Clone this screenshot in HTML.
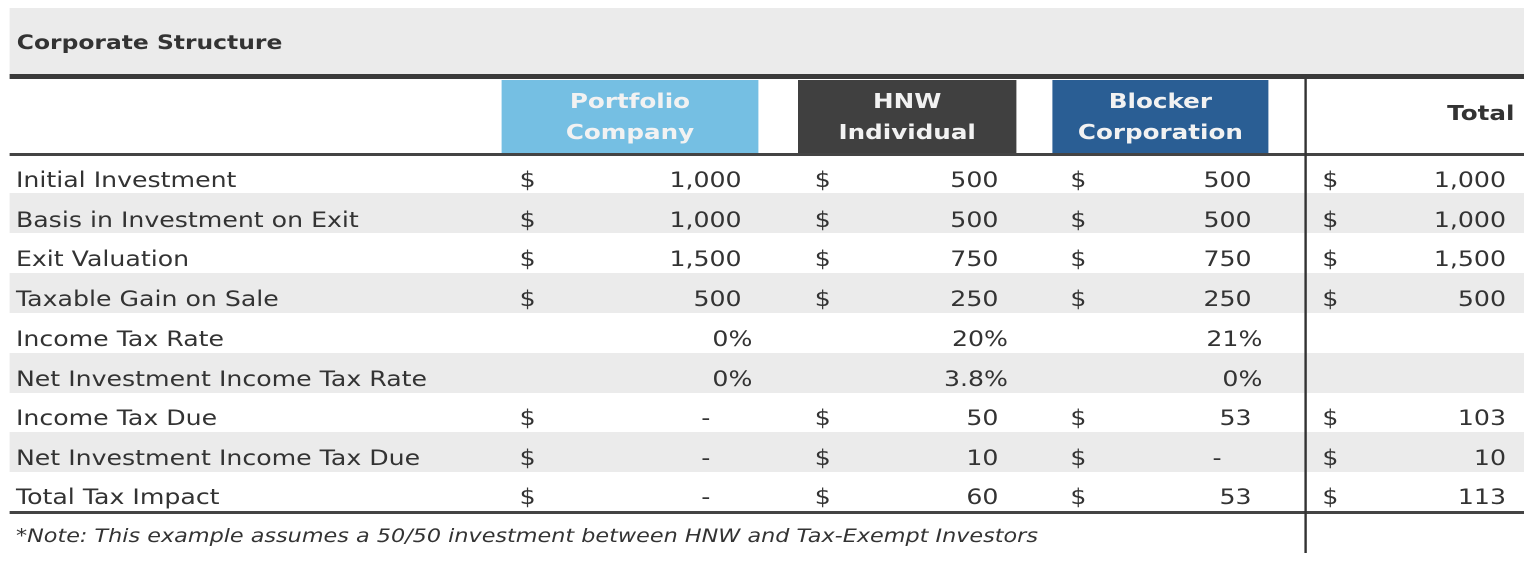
<!DOCTYPE html>
<html><head><meta charset="utf-8"><style>
html,body{margin:0;padding:0;background:#fff;width:1536px;height:561px;overflow:hidden}
#w{position:absolute;left:0;top:0;width:1280px;height:561px;transform:scaleX(1.2);transform-origin:0 0;font-family:"DejaVu Sans","Liberation Sans",sans-serif;color:#333;font-size:21px}
.a{position:absolute}
.t{position:absolute;line-height:40px;height:40px;white-space:nowrap}
.r{text-align:right}
.hb{position:absolute;top:80px;height:73px;color:#f2f2f2;font-weight:bold;text-align:center;line-height:31px;padding-top:6px;box-sizing:border-box;font-size:20.5px}
</style></head><body><div id="w">
<div class="a" style="left:8.3px;top:8px;width:1261.7px;height:67px;background:#ebebeb"></div>
<div class="a" style="left:14px;top:31px;font-weight:bold;font-size:19.5px;color:#333">Corporate Structure</div>
<div class="a" style="left:8.3px;top:74px;width:1261.7px;height:5px;background:#3a3a3a"></div>
<div class="hb" style="left:418px;width:214px;background:#75bfe3">Portfolio<br>Company</div>
<div class="hb" style="left:665px;width:182px;background:#404040">HNW<br>Individual</div>
<div class="hb" style="left:877px;width:180px;background:#2a5e94">Blocker<br>Corporation</div>
<div class="a" style="left:1150px;top:101px;width:112px;text-align:right;font-weight:bold;font-size:20.5px">Total</div>
<div class="a" style="left:8.3px;top:193px;width:1261.7px;height:40px;background:#ebebeb"></div>
<div class="a" style="left:8.3px;top:273px;width:1261.7px;height:40px;background:#ebebeb"></div>
<div class="a" style="left:8.3px;top:353px;width:1261.7px;height:40px;background:#ebebeb"></div>
<div class="a" style="left:8.3px;top:432px;width:1261.7px;height:40px;background:#ebebeb"></div>
<div class="a" style="left:8.3px;top:153px;width:1261.7px;height:3px;background:#444"></div>
<div class="a" style="left:8.3px;top:511px;width:1261.7px;height:3px;background:#444"></div>
<div class="a" style="left:1086.5px;top:79px;width:2.5px;height:474px;background:#333"></div>
<div class="a" style="left:13.3px;top:526px;font-style:italic;font-size:18.6px">*Note: This example assumes a 50/50 investment between HNW and Tax-Exempt Investors</div>
<div class="t" style="left:13.3px;top:160px">Initial Investment</div>
<div class="t" style="left:13.3px;top:200px">Basis in Investment on Exit</div>
<div class="t" style="left:13.3px;top:239px">Exit Valuation</div>
<div class="t" style="left:13.3px;top:279px">Taxable Gain on Sale</div>
<div class="t" style="left:13.3px;top:319px">Income Tax Rate</div>
<div class="t" style="left:13.3px;top:359px">Net Investment Income Tax Rate</div>
<div class="t" style="left:13.3px;top:398px">Income Tax Due</div>
<div class="t" style="left:13.3px;top:438px">Net Investment Income Tax Due</div>
<div class="t" style="left:13.3px;top:477px">Total Tax Impact</div>

<div class="t" style="left:433px;top:160px">$</div><div class="t r" style="left:518px;width:100px;top:160px">1,000</div>
<div class="t" style="left:679px;top:160px">$</div><div class="t r" style="left:732px;width:100px;top:160px">500</div>
<div class="t" style="left:892px;top:160px">$</div><div class="t r" style="left:943px;width:100px;top:160px">500</div>
<div class="t" style="left:1102px;top:160px">$</div><div class="t r" style="left:1155px;width:100px;top:160px">1,000</div>

<div class="t" style="left:433px;top:200px">$</div><div class="t r" style="left:518px;width:100px;top:200px">1,000</div>
<div class="t" style="left:679px;top:200px">$</div><div class="t r" style="left:732px;width:100px;top:200px">500</div>
<div class="t" style="left:892px;top:200px">$</div><div class="t r" style="left:943px;width:100px;top:200px">500</div>
<div class="t" style="left:1102px;top:200px">$</div><div class="t r" style="left:1155px;width:100px;top:200px">1,000</div>

<div class="t" style="left:433px;top:239px">$</div><div class="t r" style="left:518px;width:100px;top:239px">1,500</div>
<div class="t" style="left:679px;top:239px">$</div><div class="t r" style="left:732px;width:100px;top:239px">750</div>
<div class="t" style="left:892px;top:239px">$</div><div class="t r" style="left:943px;width:100px;top:239px">750</div>
<div class="t" style="left:1102px;top:239px">$</div><div class="t r" style="left:1155px;width:100px;top:239px">1,500</div>

<div class="t" style="left:433px;top:279px">$</div><div class="t r" style="left:518px;width:100px;top:279px">500</div>
<div class="t" style="left:679px;top:279px">$</div><div class="t r" style="left:732px;width:100px;top:279px">250</div>
<div class="t" style="left:892px;top:279px">$</div><div class="t r" style="left:943px;width:100px;top:279px">250</div>
<div class="t" style="left:1102px;top:279px">$</div><div class="t r" style="left:1155px;width:100px;top:279px">500</div>

<div class="t r" style="left:527px;width:100px;top:319px">0%</div>
<div class="t r" style="left:740px;width:100px;top:319px">20%</div>
<div class="t r" style="left:952px;width:100px;top:319px">21%</div>

<div class="t r" style="left:527px;width:100px;top:359px">0%</div>
<div class="t r" style="left:740px;width:100px;top:359px">3.8%</div>
<div class="t r" style="left:952px;width:100px;top:359px">0%</div>

<div class="t" style="left:433px;top:398px">$</div><div class="t r" style="left:492px;width:100px;top:398px">-</div>
<div class="t" style="left:679px;top:398px">$</div><div class="t r" style="left:732px;width:100px;top:398px">50</div>
<div class="t" style="left:892px;top:398px">$</div><div class="t r" style="left:943px;width:100px;top:398px">53</div>
<div class="t" style="left:1102px;top:398px">$</div><div class="t r" style="left:1155px;width:100px;top:398px">103</div>

<div class="t" style="left:433px;top:438px">$</div><div class="t r" style="left:492px;width:100px;top:438px">-</div>
<div class="t" style="left:679px;top:438px">$</div><div class="t r" style="left:732px;width:100px;top:438px">10</div>
<div class="t" style="left:892px;top:438px">$</div><div class="t r" style="left:918px;width:100px;top:438px">-</div>
<div class="t" style="left:1102px;top:438px">$</div><div class="t r" style="left:1155px;width:100px;top:438px">10</div>

<div class="t" style="left:433px;top:477px">$</div><div class="t r" style="left:492px;width:100px;top:477px">-</div>
<div class="t" style="left:679px;top:477px">$</div><div class="t r" style="left:732px;width:100px;top:477px">60</div>
<div class="t" style="left:892px;top:477px">$</div><div class="t r" style="left:943px;width:100px;top:477px">53</div>
<div class="t" style="left:1102px;top:477px">$</div><div class="t r" style="left:1155px;width:100px;top:477px">113</div>
</div></body></html>
